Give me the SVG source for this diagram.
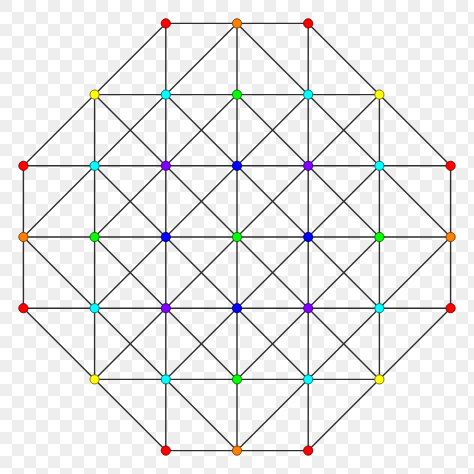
<svg xmlns="http://www.w3.org/2000/svg" width="474" height="474" viewBox="0 0 474 474">
<style>
.e{stroke:#2e2e2e;stroke-width:1.4;fill:none;stroke-linecap:round}
circle{r:4.6;stroke-width:0.9}
.red{fill:#ff0000;stroke:#7a0000}
.org{fill:#ff8000;stroke:#7a3d00}
.yel{fill:#ffff00;stroke:#6b6b00}
.cya{fill:#00ffff;stroke:#006b6b}
.grn{fill:#00ff00;stroke:#006b00}
.blu{fill:#0000ff;stroke:#00006b}
.pur{fill:#8000ff;stroke:#3d007a}
</style>
<defs>
<pattern id="chk" width="24" height="24" patternUnits="userSpaceOnUse">
<rect width="24" height="24" fill="#ffffff"/>
<rect x="0" y="0" width="12" height="12" fill="#eeeeee"/>
<rect x="12" y="12" width="12" height="12" fill="#eeeeee"/>
</pattern>
</defs>
<rect width="474" height="474" fill="url(#chk)"/>
<g id="connectors" class="e">
<path d="M165.8 23.4H308.2M94.6 94.6H379.4M23.4 165.8H450.6M23.4 237H450.6M23.4 308.2H450.6M94.6 379.4H379.4M165.8 450.6H308.2"/>
<path d="M23.4 165.8V308.2M94.6 94.6V379.4M165.8 23.4V450.6M237 23.4V450.6M308.2 23.4V450.6M379.4 94.6V379.4M450.6 165.8V308.2"/>
<path d="M94.6 94.6L379.4 379.4M165.8 94.6L379.4 308.2M237 94.6L379.4 237M237 23.4L450.6 237M308.2 23.4L450.6 165.8M94.6 165.8L308.2 379.4M94.6 237L237 379.4M23.4 237L237 450.6M23.4 308.2L165.8 450.6"/>
<path d="M165.8 23.4L23.4 165.8M237 23.4L23.4 237M237 94.6L94.6 237M308.2 94.6L94.6 308.2M379.4 94.6L94.6 379.4M379.4 165.8L165.8 379.4M379.4 237L237 379.4M450.6 237L237 450.6M450.6 308.2L308.2 450.6"/>
</g>
<g id="nodes">
<g id="n2-0"><circle class="red" cx="165.8" cy="23.4" r="4.6"/></g>
<g id="n3-0"><circle class="org" cx="237" cy="23.4" r="4.6"/></g>
<g id="n4-0"><circle class="red" cx="308.2" cy="23.4" r="4.6"/></g>
<g id="n1-1"><circle class="yel" cx="94.6" cy="94.6" r="4.6"/></g>
<g id="n2-1"><circle class="cya" cx="165.8" cy="94.6" r="4.6"/></g>
<g id="n3-1"><circle class="grn" cx="237" cy="94.6" r="4.6"/></g>
<g id="n4-1"><circle class="cya" cx="308.2" cy="94.6" r="4.6"/></g>
<g id="n5-1"><circle class="yel" cx="379.4" cy="94.6" r="4.6"/></g>
<g id="n0-2"><circle class="red" cx="23.4" cy="165.8" r="4.6"/></g>
<g id="n1-2"><circle class="cya" cx="94.6" cy="165.8" r="4.6"/></g>
<g id="n2-2"><circle class="pur" cx="165.8" cy="165.8" r="4.6"/></g>
<g id="n3-2"><circle class="blu" cx="237" cy="165.8" r="4.6"/></g>
<g id="n4-2"><circle class="pur" cx="308.2" cy="165.8" r="4.6"/></g>
<g id="n5-2"><circle class="cya" cx="379.4" cy="165.8" r="4.6"/></g>
<g id="n6-2"><circle class="red" cx="450.6" cy="165.8" r="4.6"/></g>
<g id="n0-3"><circle class="org" cx="23.4" cy="237" r="4.6"/></g>
<g id="n1-3"><circle class="grn" cx="94.6" cy="237" r="4.6"/></g>
<g id="n2-3"><circle class="blu" cx="165.8" cy="237" r="4.6"/></g>
<g id="n3-3"><circle class="grn" cx="237" cy="237" r="4.6"/></g>
<g id="n4-3"><circle class="blu" cx="308.2" cy="237" r="4.6"/></g>
<g id="n5-3"><circle class="grn" cx="379.4" cy="237" r="4.6"/></g>
<g id="n6-3"><circle class="org" cx="450.6" cy="237" r="4.6"/></g>
<g id="n0-4"><circle class="red" cx="23.4" cy="308.2" r="4.6"/></g>
<g id="n1-4"><circle class="cya" cx="94.6" cy="308.2" r="4.6"/></g>
<g id="n2-4"><circle class="pur" cx="165.8" cy="308.2" r="4.6"/></g>
<g id="n3-4"><circle class="blu" cx="237" cy="308.2" r="4.6"/></g>
<g id="n4-4"><circle class="pur" cx="308.2" cy="308.2" r="4.6"/></g>
<g id="n5-4"><circle class="cya" cx="379.4" cy="308.2" r="4.6"/></g>
<g id="n6-4"><circle class="red" cx="450.6" cy="308.2" r="4.6"/></g>
<g id="n1-5"><circle class="yel" cx="94.6" cy="379.4" r="4.6"/></g>
<g id="n2-5"><circle class="cya" cx="165.8" cy="379.4" r="4.6"/></g>
<g id="n3-5"><circle class="grn" cx="237" cy="379.4" r="4.6"/></g>
<g id="n4-5"><circle class="cya" cx="308.2" cy="379.4" r="4.6"/></g>
<g id="n5-5"><circle class="yel" cx="379.4" cy="379.4" r="4.6"/></g>
<g id="n2-6"><circle class="red" cx="165.8" cy="450.6" r="4.6"/></g>
<g id="n3-6"><circle class="org" cx="237" cy="450.6" r="4.6"/></g>
<g id="n4-6"><circle class="red" cx="308.2" cy="450.6" r="4.6"/></g>
</g>
</svg>
